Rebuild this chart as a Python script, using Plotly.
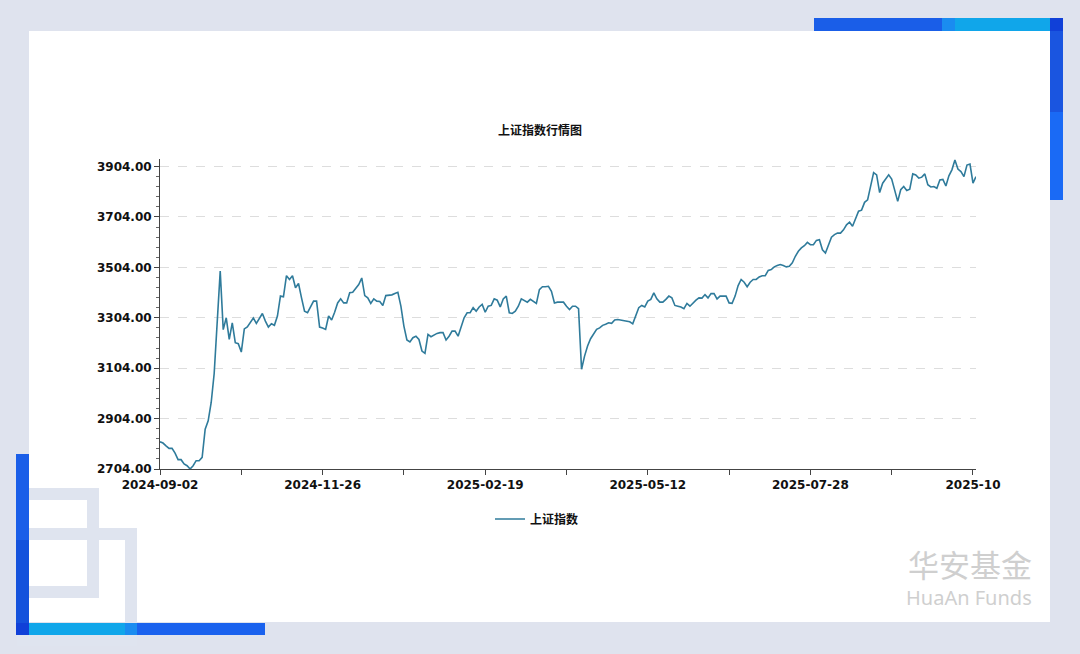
import plotly.graph_objects as go

# 上证指数 daily close, trading-day index
sse_close = [
    2812, 2807, 2796, 2786, 2786, 2767, 2741, 2741, 2724, 2717,
    2704, 2717, 2737, 2737, 2750, 2862, 2895, 2968, 3084, 3311,
    3489, 3257, 3304, 3218, 3284, 3205, 3201, 3168, 3260, 3268,
    3284, 3303, 3282, 3300, 3321, 3291, 3267, 3280, 3274, 3311,
    3390, 3387, 3471, 3456, 3471, 3423, 3440, 3383, 3330, 3324,
    3347, 3370, 3370, 3267, 3263, 3258, 3311, 3295, 3326, 3363,
    3379, 3363, 3363, 3403, 3405, 3423, 3436, 3462, 3392, 3383,
    3361, 3379, 3370, 3369, 3353, 3392, 3393, 3395, 3400, 3405,
    3350, 3271, 3216, 3208, 3225, 3231, 3218, 3172, 3163, 3238,
    3229, 3237, 3242, 3245, 3245, 3216, 3231, 3251, 3251, 3231,
    3271, 3304, 3324, 3324, 3344, 3330, 3347, 3357, 3326, 3350,
    3353, 3379, 3374, 3347, 3379, 3390, 3324, 3321, 3330, 3350,
    3379, 3374, 3366, 3377, 3370, 3361, 3416, 3427, 3427, 3429,
    3409, 3363, 3366, 3366, 3366, 3350, 3337, 3350, 3350, 3340,
    3100, 3152, 3192, 3221, 3238, 3258, 3264, 3274, 3278, 3284,
    3282, 3295, 3297, 3295, 3295, 3290, 3288, 3280, 3313, 3344,
    3353, 3347, 3370, 3377, 3403, 3379, 3366, 3366, 3377, 3390,
    3383, 3353, 3350, 3347, 3340, 3361, 3350, 3363, 3374, 3383,
    3382, 3396, 3383, 3400, 3400, 3379, 3390, 3390, 3390, 3363,
    3361, 3390, 3432, 3456, 3445, 3427, 3445, 3456, 3456, 3466,
    3471, 3471, 3492, 3495, 3506, 3511, 3515, 3511, 3506, 3508,
    3522, 3548, 3568, 3581, 3590, 3603, 3594, 3594, 3611, 3614,
    3574, 3561, 3590, 3624, 3634, 3640, 3640, 3653, 3673, 3683,
    3667, 3700, 3727, 3731, 3762, 3772, 3825, 3880, 3871, 3801,
    3838, 3854, 3871, 3854, 3814, 3766, 3812, 3825, 3809, 3814,
    3875, 3871, 3858, 3862, 3875, 3832, 3823, 3825, 3818, 3851,
    3853, 3827, 3867, 3891, 3930, 3894, 3884, 3864, 3910, 3914,
    3838, 3864,
]
tick_pos = [0, 54, 108, 162, 216, 270]
tick_labels = ["2024-09-02", "2024-11-26", "2025-02-19", "2025-05-12", "2025-07-28", "2025-10"]
y_ticks = [2704, 2904, 3104, 3304, 3504, 3704, 3904]

W, H = 1080, 654
L, R, T, B = 160, 976, 159, 469


def px(x0, y0, x1, y1, color):
    # rectangle in page pixels -> paper coords
    return dict(type="rect", xref="paper", yref="paper", layer="below",
                x0=(x0 - L) / (R - L), x1=(x1 - L) / (R - L),
                y0=(B - y0) / (B - T), y1=(B - y1) / (B - T),
                fillcolor=color, line=dict(width=0))


def outline(x0, y0, x1, y1, color):
    d = px(x0, y0, x1, y1, "rgba(0,0,0,0)")
    d["line"] = dict(color=color, width=12)
    return d


grey = "#dfe4ef"
shapes = [
    px(29, 31, 1050, 622, "white"),
    outline(23, 494, 93, 592, grey),
    outline(23, 534, 131, 640, grey),
    # bottom-left bars
    px(16, 454, 29, 540, "#1a5ee8"),
    px(16, 540, 29, 623, "#1452dc"),
    px(16, 623, 29, 635, "#1040d8"),
    px(29, 623, 125, 635, "#10a6ea"),
    px(125, 623, 137, 635, "#1a8cf0"),
    px(137, 623, 265, 635, "#1a62ee"),
    # top-right bars
    px(814, 18, 942, 31, "#1a5ee8"),
    px(942, 18, 955, 31, "#1a8cf0"),
    px(955, 18, 1050, 31, "#10a6ea"),
    px(1050, 18, 1063, 31, "#1040d8"),
    px(1050, 31, 1063, 112, "#1a55e0"),
    px(1050, 112, 1063, 200, "#1a6af5"),
]

fig = go.Figure()
fig.add_trace(go.Scatter(
    x=list(range(len(sse_close))), y=sse_close, mode="lines", name="<b>上证指数</b>",
    line=dict(color="#2f7b9b", width=1.6),
))

fig.update_layout(
    width=W, height=H,
    margin=dict(l=L, r=W - R, t=T, b=H - B),
    paper_bgcolor="#dfe3ee", plot_bgcolor="white",
    font=dict(family="Noto Sans CJK SC, DejaVu Sans", size=12, color="#111"),
    title=dict(text="<b>上证指数行情图</b>", x=(540 - L) / (R - L), xref="paper",
               xanchor="center", y=1 - 131 / H, yanchor="middle", font=dict(size=12)),
    showlegend=True,
    legend=dict(orientation="h", x=(537 - L) / (R - L), xanchor="center", y=(B - 519) / (B - T),
                yanchor="middle", font=dict(size=12), bgcolor="rgba(0,0,0,0)"),
    shapes=shapes,
)
fig.update_xaxes(
    range=[0, len(sse_close) - 1], tickvals=tick_pos,
    ticktext=["<b>%s</b>" % t for t in tick_labels],
    showgrid=False, zeroline=False, showline=True, linecolor="#444", linewidth=1,
    ticks="outside", ticklen=5, tickcolor="#444",
    tickfont=dict(family="DejaVu Sans", size=12, color="#111"),
    minor=dict(tickvals=[27, 81, 135, 189, 243], ticks="outside", ticklen=5, tickcolor="#444"),
)
fig.update_yaxes(
    range=[2704, 3934], tickvals=y_ticks,
    ticktext=["<b>%.2f</b>" % v for v in y_ticks],
    showgrid=True, gridcolor="#dddddd", griddash="dash", zeroline=False,
    showline=True, linecolor="#444", linewidth=1,
    ticks="outside", ticklen=5, tickcolor="#444",
    tickfont=dict(family="DejaVu Sans", size=12, color="#111"),
    minor=dict(dtick=40, tick0=2704, ticks="outside", ticklen=3, tickcolor="#666", showgrid=False),
)

fig.add_annotation(text="华安基金", xref="paper", yref="paper", xanchor="right", yanchor="bottom",
                   x=(1033 - L) / (R - L), y=(B - 587) / (B - T), showarrow=False, borderpad=0,
                   font=dict(family="Noto Sans CJK SC", size=31, color="#cfcfcf"))
fig.add_annotation(text="HuaAn Funds", xref="paper", yref="paper", xanchor="right", yanchor="top",
                   x=(1033 - L) / (R - L), y=(B - 583) / (B - T), showarrow=False, borderpad=0,
                   font=dict(family="Noto Sans", size=20, color="#cfcfcf"))

fig.write_html("out.html", config={"displayModeBar": False})

# drop the default body margin so the figure sits at the window origin
with open("out.html", encoding="utf-8") as f:
    page = f.read()
page = page.replace("<body>", '<body style="margin:0">', 1)
with open("out.html", "w", encoding="utf-8") as f:
    f.write(page)
